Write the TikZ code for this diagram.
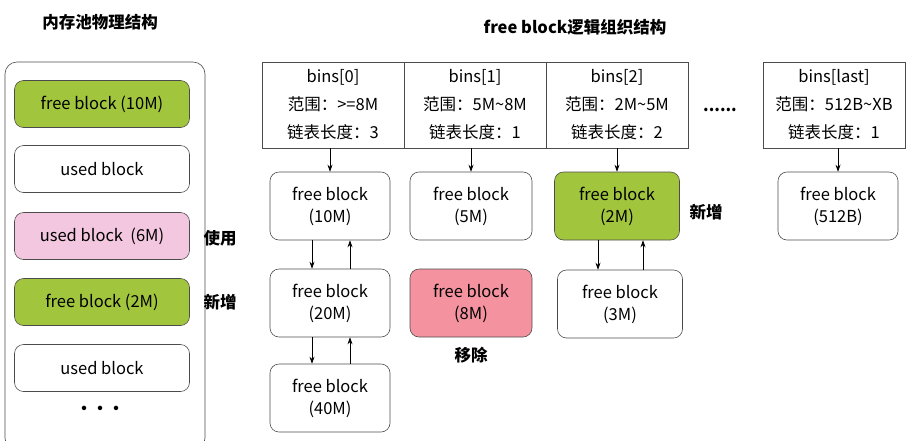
\documentclass[tikz,border=0pt]{standalone}
\usepackage{fontspec}
\setmainfont{Noto Sans CJK SC}
\usetikzlibrary{arrows.meta}
\definecolor{grn}{HTML}{A2C53E}
\definecolor{pk}{HTML}{F3C7DF}
\definecolor{rd}{HTML}{F4939F}
\begin{document}
\begin{tikzpicture}[x=1pt,y=-1pt,
  blk/.style={draw=black!70,rounded corners=9pt,line width=0.6pt,font=\fontsize{16.5}{22}\selectfont,align=center,inner sep=0pt},
  cell/.style={draw=black!70,line width=0.6pt,font=\fontsize{16.5}{28}\selectfont,align=center,inner sep=0pt},
  lab/.style={font=\bfseries\fontsize{16.5}{18}\selectfont},
  ar/.style={-{Stealth[length=7pt,width=5pt]},line width=0.7pt}]
\useasboundingbox (0,0) rectangle (917,440);
\node[lab] (t1) at (100,22) {内存池物理结构};
\node[lab] (t2) at (575,27) {free block逻辑组织结构};
\draw[draw=black!70,rounded corners=12pt,line width=0.6pt] (5,62) rectangle (205,450);
\node[blk,fill=grn,minimum width=175pt,minimum height=47pt] (l1) at (102,104) {free block (10M)};
\node[blk,minimum width=175pt,minimum height=47pt] (l2) at (102,169) {used block};
\node[blk,fill=pk,minimum width=175pt,minimum height=47pt] (l3) at (102,236) {used block\ \ (6M)};
\node[blk,fill=grn,minimum width=175pt,minimum height=47pt] (l4) at (102,302) {free block (2M)};
\node[blk,minimum width=175pt,minimum height=47pt] (l5) at (102,368) {used block};
\node[font=\bfseries\fontsize{16}{16}\selectfont] (dots) at (100,410) {•••};
\node[lab] (use) at (220,238) {使用};
\node[lab] (add1) at (220,302) {新增};
\node[cell,minimum width=142pt,minimum height=86pt] (b0) at (333,105) {bins[0]\\范围：>=8M\\链表长度：3};
\node[cell,minimum width=142pt,minimum height=86pt] (b1) at (475,105) {bins[1]\\范围：5M\textasciitilde8M\\链表长度：1};
\node[cell,minimum width=142pt,minimum height=86pt] (b2) at (617,105) {bins[2]\\范围：2M\textasciitilde5M\\链表长度：2};
\node[font=\bfseries\fontsize{16}{16}\selectfont] (ell) at (720,110) {......};
\node[cell,minimum width=142pt,minimum height=86pt] (bl) at (834,105) {bins[last]\\范围：512B\textasciitilde XB\\链表长度：1};
\node[blk,minimum width=120pt,minimum height=68pt] (a1) at (330,206) {free block\\(10M)};
\node[blk,minimum width=120pt,minimum height=68pt] (a2) at (330,303) {free block\\(20M)};
\node[blk,minimum width=120pt,minimum height=68pt] (a3) at (330,398) {free block\\(40M)};
\node[blk,minimum width=122pt,minimum height=68pt] (c1) at (471,206) {free block\\(5M)};
\node[blk,fill=rd,minimum width=122pt,minimum height=68pt] (c2) at (471,303) {free block\\(8M)};
\node[lab] (rm) at (471,355) {移除};
\node[blk,fill=grn,minimum width=125pt,minimum height=68pt] (d1) at (617,206) {free block\\(2M)};
\node[lab] (add2) at (706,212) {新增};
\node[blk,minimum width=125pt,minimum height=68pt] (d2) at (620,304) {free block\\(3M)};
\node[blk,minimum width=120pt,minimum height=68pt] (e1) at (838,206) {free block\\(512B)};
\draw[ar] (b0.south -| a1.north) -- (a1.north);
\draw[ar] (b1.south -| c1.north) -- (c1.north);
\draw[ar] (b2.south) -- (d1.north);
\draw[ar] (bl.south -| e1.north) -- (e1.north);
\draw[ar] ([xshift=-18pt]a1.south) -- ([xshift=-18pt]a2.north);
\draw[ar] ([xshift=20pt]a2.north) -- ([xshift=20pt]a1.south);
\draw[ar] ([xshift=-18pt]a2.south) -- ([xshift=-18pt]a3.north);
\draw[ar] ([xshift=20pt]a3.north) -- ([xshift=20pt]a2.south);
\draw[ar] ([xshift=-19pt]d1.south) -- ([xshift=-19pt]d1.south |- d2.north);
\draw[ar] ([xshift=23pt]d2.north) -- ([xshift=23pt]d2.north |- d1.south);
\end{tikzpicture}
\end{document}
